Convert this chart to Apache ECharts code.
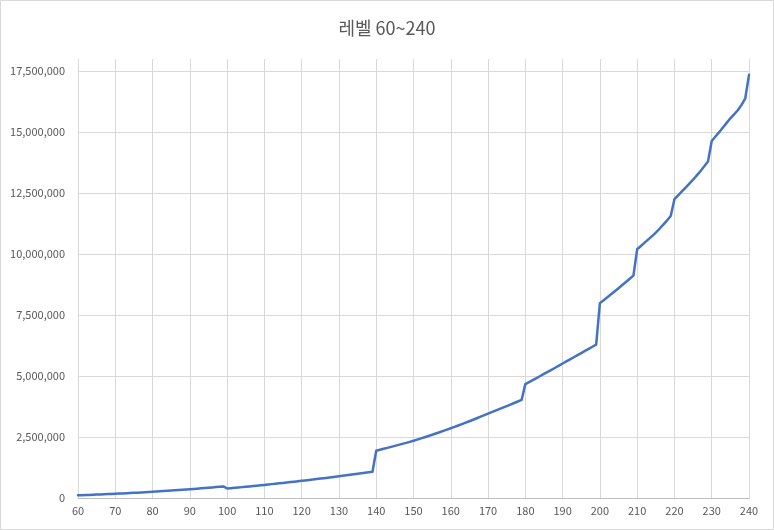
<!DOCTYPE html>
<html>
<head>
<meta charset="utf-8">
<title>레벨 60~240</title>
<script src="https://cdn.jsdelivr.net/npm/echarts@6/dist/echarts.min.js"></script>
<style>
    body { margin: 0; background: #fff; }
    #main { width: 774px; height: 530px; }
</style>
</head>
<body>
<div id="main"></div>
<script>
var chartTitle = '레벨 60~240';

// levels 60 .. 240
var levels = [];
for (var lv = 60; lv <= 240; lv++) {
    levels.push(String(lv));
}

// values, one row per 10 levels
var expValues = [
    110000, 115000, 121000, 127000, 133000, 139000, 145000, 152000, 159000, 166000,       // 60
    173000, 180000, 188000, 196000, 204000, 212000, 220000, 229000, 238000, 247000,       // 70
    256000, 265000, 275000, 285000, 295000, 305000, 316000, 327000, 338000, 349000,       // 80
    360000, 372000, 384000, 396000, 408000, 421000, 434000, 447000, 460000, 474000,       // 90
    390000, 404000, 418000, 432000, 446000, 461000, 476000, 491000, 506000, 521000,       // 100
    537000, 553000, 569000, 585000, 601000, 618000, 635000, 652000, 669000, 686000,       // 110
    704000, 722000, 740000, 758000, 776000, 795000, 814000, 833000, 852000, 871000,       // 120
    891000, 911000, 931000, 951000, 971000, 992000, 1013000, 1034000, 1055000, 1077000,   // 130
    1940000, 1978000, 2017000, 2056000, 2096000, 2136000, 2177000, 2218000, 2260000, 2303000, // 140
    2346000, 2394000, 2443000, 2493000, 2543000, 2594000, 2645000, 2697000, 2750000, 2804000, // 150
    2858000, 2914000, 2971000, 3029000, 3088000, 3148000, 3209000, 3271000, 3334000, 3398000, // 160
    3462000, 3522000, 3583000, 3644000, 3706000, 3768000, 3831000, 3894000, 3957000, 4020000, // 170
    4670000, 4752000, 4835000, 4918000, 5002000, 5086000, 5171000, 5256000, 5342000, 5428000, // 180
    5515000, 5600000, 5685000, 5770000, 5856000, 5942000, 6029000, 6116000, 6203000, 6290000, // 190
    7990000, 8110000, 8232000, 8355000, 8479000, 8604000, 8731000, 8859000, 8988000, 9120000, // 200
    10200000, 10335000, 10470000, 10605000, 10740000, 10880000, 11040000, 11205000, 11375000, 11560000, // 210
    12250000, 12410000, 12570000, 12730000, 12890000, 13050000, 13230000, 13410000, 13600000, 13800000, // 220
    14640000, 14820000, 15000000, 15190000, 15380000, 15570000, 15730000, 15900000, 16120000, 16390000, // 230
    17350000                                                                                    // 240
];

var yMin = 0;
var yMax = 18000000;
var yStep = 2500000;

var myChart = echarts.init(document.getElementById('main'));

var option = {
    animation: false,
    textStyle: {
        fontFamily: '"Noto Sans CJK KR", "Noto Sans", sans-serif'
    },
    title: {
        text: chartTitle,
        left: 'center',
        top: 14,
        textStyle: {
            fontSize: 18,
            fontWeight: 'normal',
            color: '#595959',
            fontFamily: '"Noto Sans CJK KR", sans-serif'
        }
    },
    grid: {
        left: 78,
        right: 25,
        top: 59,
        bottom: 32
    },
    xAxis: {
        type: 'category',
        data: levels,
        boundaryGap: false,
        axisLine: {
            lineStyle: { color: '#bfbfbf', width: 1 }
        },
        axisTick: { show: false },
        axisLabel: {
            interval: 9,
            color: '#595959',
            fontSize: 11,
            margin: 7
        },
        splitLine: {
            show: true,
            interval: 9,
            lineStyle: { color: '#d9d9d9', width: 1 }
        }
    },
    yAxis: {
        type: 'value',
        min: yMin,
        max: yMax,
        interval: yStep,
        axisLine: { show: false },
        axisTick: { show: false },
        axisLabel: {
            color: '#595959',
            fontSize: 11,
            margin: 13,
            showMaxLabel: false,
            formatter: function (v) {
                return v.toString().replace(/\B(?=(\d{3})+(?!\d))/g, ',');
            }
        },
        splitLine: {
            show: true,
            showMaxLine: false,
            lineStyle: { color: '#d9d9d9', width: 1 }
        }
    },
    series: [
        {
            type: 'line',
            data: expValues,
            showSymbol: false,
            smooth: false,
            lineStyle: {
                color: '#4472c4',
                width: 2.5,
                cap: 'round',
                join: 'round'
            }
        }
    ],
    graphic: [
        {
            type: 'rect',
            shape: { x: 0.5, y: 0.5, width: 773, height: 529 },
            style: { fill: 'none', stroke: '#d9d9d9', lineWidth: 1 },
            silent: true
        }
    ]
};

myChart.setOption(option);
</script>
</body>
</html>
